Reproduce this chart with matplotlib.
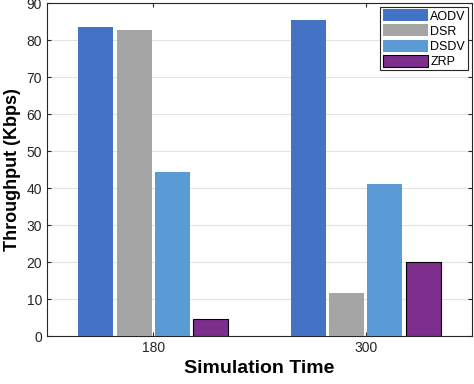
import numpy as np
import matplotlib
matplotlib.use('Agg')
import matplotlib.pyplot as plt

plt.rcParams['font.family'] = ['Liberation Sans', 'DejaVu Sans']

times = ['180', '300']
protocols = ['AODV', 'DSR', 'DSDV', 'ZRP']
aodv = [83.5, 85.3]
dsr = [82.8, 11.5]
dsdv = [44.3, 41.0]
zrp = [4.7, 20.0]
colors = ['#4472C4', '#A5A5A5', '#5B9BD5', '#7E2F8E']

fig = plt.figure(figsize=(4.74, 3.84), dpi=100)
ax = fig.add_axes([0.099, 0.125, 0.897, 0.867])

x = np.arange(1, len(times) + 1)
width = 0.165
offsets = [-0.27, -0.09, 0.09, 0.27]
for i, (vals, name) in enumerate(zip([aodv, dsr, dsdv, zrp], protocols)):
    edge = 'black' if name == 'ZRP' else colors[i]
    ax.bar(x + offsets[i], vals, width, color=colors[i], edgecolor=edge,
           linewidth=0.8 if name == 'ZRP' else 0, label=name, zorder=3)

ax.set_xlim(0.5, 2.5)
ax.set_ylim(0, 90)
ax.set_xticks(x)
ax.set_xticklabels(times)
ax.set_yticks(np.arange(0, 91, 10))
ax.yaxis.grid(True, color='#e3e3e3', linewidth=0.8, zorder=0)
ax.tick_params(direction='in', top=True, right=True, labelsize=10, colors='#262626', length=3)
for s in ax.spines.values():
    s.set_color('#262626')
    s.set_linewidth(0.8)

ax.set_xlabel('Simulation Time', fontsize=14, fontweight='bold')
ax.set_ylabel('Throughput (Kbps)', fontsize=13, fontweight='bold')

leg = ax.legend(loc='upper right', fontsize=9, fancybox=False, framealpha=1,
                edgecolor='#262626', handlelength=3.6, handleheight=1.1,
                borderpad=0.2, labelspacing=0.15, handletextpad=0.2,
                borderaxespad=0.3)
leg.get_frame().set_linewidth(0.8)

fig.savefig('out.png', dpi=100)
